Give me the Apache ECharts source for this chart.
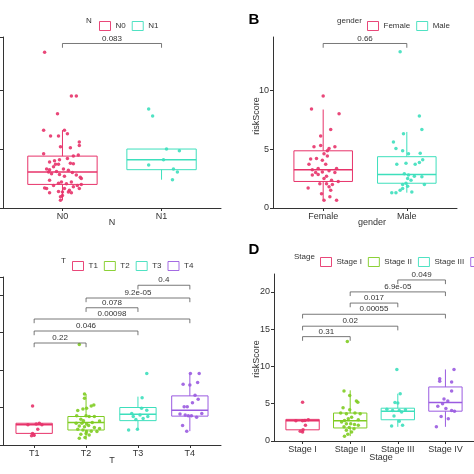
<!DOCTYPE html>
<html style="height: 100%">
<head>
    <meta charset="utf-8">
    <script src="https://cdn.jsdelivr.net/npm/echarts@6/dist/echarts.min.js"></script>
</head>
<body style="margin: 0; height: 100%">
    <div id="main" style="width: 474px; height: 474px"></div>
    <script>
        // Kategorier
        const catsA = ['N0', 'N1'];
        const catsB = ['Female', 'Male'];
        const catsC = ['T1', 'T2', 'T3', 'T4'];
        const catsD = ['Stage I', 'Stage II', 'Stage III', 'Stage IV'];

        // Boxar: [min-whisker, q1, median, q3, max-whisker]
        const boxA = [[0.65, 2.0, 3.05, 4.4, 6.6], [2.4, 3.25, 4.1, 5.0, 5.0]];
        const boxB = [[0.65, 2.25, 3.25, 4.85, 8.35], [1.3, 2.1, 2.85, 4.35, 6.45]];
        const boxC = [[1.1, 1.55, 2.7, 2.9, 2.9], [0.7, 2.0, 3.0, 3.8, 6.8], [2.0, 3.25, 4.1, 5.0, 6.45], [1.85, 3.85, 4.65, 6.55, 9.55]];
        const boxD = [[1.2, 1.5, 2.7, 2.9, 2.9], [0.65, 1.75, 2.7, 3.75, 6.8], [1.9, 2.85, 4.0, 4.4, 6.35], [1.9, 4.0, 5.15, 7.25, 9.6]];

        // Punkter: [jitter, värde]
        const ptsA = [
            [[-.18,13.2],[.09,9.5],[.14,9.5],[-.05,8.0],[-.19,6.6],[.02,6.6],[-.12,6.1],[-.04,6.1],[.05,6.3],[.17,5.6],[.17,5.3],[-.02,5.2],[.08,5.1],[-.19,4.6],[.16,4.5],[.11,4.4],[.05,4.2],[-.13,3.9],[-.08,4.0],[-.03,4.1],[.08,3.8],[.11,3.75],[-.07,3.7],[-.04,3.7],[-.16,3.3],[-.13,3.25],[-.09,3.5],[-.06,3.1],[.01,3.3],[.06,3.2],[-.14,3.05],[-.11,2.9],[-.03,2.85],[.02,2.7],[.1,3.0],[.14,2.8],[.18,2.6],[.19,2.5],[-.13,2.35],[-.04,2.1],[-.01,2.2],[.04,2.05],[.09,2.2],[.15,1.9],[.19,2.0],[-.18,1.7],[-.16,1.65],[-.09,1.9],[.02,1.65],[.07,1.5],[.11,1.8],[-.13,1.3],[-.04,1.4],[0,1.35],[.06,1.35],[.09,1.3],[-.02,0.95],[0,1.05],[-.02,0.65],[.17,1.65]],
            [[-.13,8.4],[-.09,7.8],[.05,5.0],[.18,4.85],[.02,4.1],[-.13,3.65],[.12,3.3],[.16,3.05],[.11,2.4]]
        ];
        const ptsB = [
            [[0,9.5],[-.14,8.4],[.19,8.0],[.09,6.65],[-.03,6.1],[-.11,5.2],[-.03,5.3],[.05,4.85],[.07,5.05],[.14,5.2],[.01,4.6],[.05,4.4],[-.15,4.15],[-.08,4.2],[-.01,4.05],[-.17,3.7],[.03,3.7],[-.06,3.35],[.16,3.35],[-.13,3.25],[-.09,3.0],[-.01,3.05],[.07,3.15],[.14,3.0],[-.06,2.85],[.04,2.7],[-.13,2.8],[.01,2.5],[.1,2.35],[.18,2.25],[-.04,2.05],[.04,2.05],[.11,2.0],[-.18,1.7],[.07,1.8],[.09,1.5],[-.02,1.2],[.08,0.95],[.16,0.65],[.01,0.65]],
            [[-.08,13.25],[.15,7.8],[.18,6.65],[-.04,6.3],[-.16,5.6],[-.13,5.05],[-.05,4.85],[.02,4.6],[.16,4.65],[.19,4.1],[.15,3.85],[-.01,3.8],[-.12,3.7],[.1,3.7],[-.03,2.9],[.02,2.8],[.09,2.7],[.18,2.65],[.01,2.5],[.05,2.35],[-.01,2.1],[-.05,2.0],[.21,2.0],[.01,1.85],[-.05,1.65],[.06,1.35],[-.18,1.3],[-.13,1.3],[-.08,1.5]]
        ];
        const ptsC = [
            [[-.03,5.2],[-.12,2.7],[.04,2.8],[.1,2.9],[.15,2.7],[.07,2.1],[-.03,1.55],[-.05,1.25],[0,1.3]],
            [[-.13,13.4],[-.03,6.8],[-.03,6.25],[.15,5.35],[.1,5.2],[-.16,4.6],[-.06,4.8],[.01,4.9],[-.18,3.9],[0,3.9],[.16,3.8],[.06,3.8],[-.1,3.45],[-.05,3.25],[.26,3.2],[-.19,2.9],[-.08,2.9],[.01,2.8],[.12,3.0],[-.13,2.55],[-.03,2.45],[.05,2.6],[.16,2.35],[.26,2.2],[-.16,2.1],[-.06,2.0],[.01,1.8],[.1,1.85],[.21,1.8],[-.1,1.45],[0,1.55],[.06,1.35],[-.13,0.9],[-.02,1.0]],
            [[.17,9.55],[.08,6.3],[.17,4.65],[.04,4.0],[.19,3.8],[-.01,2.1],[-.18,2.0],[-.12,4.2],[-.04,3.4],[.07,4.9],[-.09,3.8],[.1,3.55]],
            [[.18,9.55],[.01,9.55],[-.13,8.1],[0,8.0],[.15,8.35],[.1,6.65],[.16,6.1],[.05,5.65],[-.11,5.1],[-.05,5.1],[-.19,4.15],[-.09,4.0],[.03,3.9],[.13,3.7],[-.14,2.6],[-.06,1.85],[-.03,3.9],[.23,4.2]]
        ];
        const ptsD = [
            [[0,5.2],[-.14,2.7],[.05,2.75],[.12,2.85],[0,2.7],[.06,2.1],[.01,1.5],[-.05,1.3],[0,1.2]],
            [[-.06,13.35],[-.13,6.7],[-.01,6.1],[.13,5.35],[.16,5.2],[-.15,4.45],[-.01,4.2],[-.2,3.75],[-.08,3.65],[.1,3.75],[.21,3.65],[.03,3.2],[-.12,2.75],[-.04,3.0],[.17,2.85],[-.18,2.55],[-.08,2.3],[.01,2.3],[.09,2.2],[-.13,1.9],[-.02,1.8],[.08,1.65],[-.08,1.45],[.03,1.2],[-.05,0.9],[-.12,0.65],[.17,2.1]],
            [[-.02,9.6],[.05,6.35],[-.06,5.15],[0,5.1],[-.23,4.25],[-.11,4.1],[.03,4.1],[.16,4.2],[.08,3.9],[-.08,3.35],[.03,2.65],[-.13,2.0],[.1,2.1]],
            [[.18,9.6],[-.12,8.35],[-.12,8.0],[.13,7.9],[-.03,5.65],[.13,6.7],[-.16,4.65],[.05,5.35],[-.06,5.0],[.01,4.35],[.13,4.1],[.19,4.0],[-.09,3.3],[.06,3.0],[-.19,1.9]]
        ];

        // Jämförelser: [från, till, höjd, p-värde]
        const cmpA = [[0, 1, 13.95, '0.083']];
        const cmpB = [[0, 1, 13.95, '0.66']];
        const cmpC = [[2, 3, 21.3, '0.4'], [1, 3, 19.6, '9.2e-05'], [1, 2, 18.3, '0.078'], [0, 3, 16.8, '0.00098'], [0, 2, 15.2, '0.046'], [0, 1, 13.6, '0.22']];
        const cmpD = [[2, 3, 21.6, '0.049'], [1, 3, 20.0, '6.9e-05'], [1, 2, 18.5, '0.017'], [0, 3, 17.0, '0.00055'], [0, 2, 15.4, '0.02'], [0, 1, 14.0, '0.31']];

        const red = '#E7336A', green = '#7FCC22', teal = '#3DDFBC', purple = '#9A5BE0';

        const panels = [
            { cats: catsA, box: boxA, pts: ptsA, cmp: cmpA, colors: [red, teal], title: 'N', xName: 'N', ymax: 14.5, yLabels: false,
              grid: { left: 3, right: 253, top: 37, bottom: 266 }, lg: { left: 94, top: 16 }, lt: [86, 21], xt: [112, 223] },
            { cats: catsB, box: boxB, pts: ptsB, cmp: cmpB, colors: [red, teal], title: 'gender', xName: 'gender', ymax: 14.5, yLabels: true,
              grid: { left: 273, right: 17, top: 37, bottom: 266 }, lg: { left: 362, top: 16 }, lt: [337, 21], xt: [372, 223], yt: [257, 116], tag: ['B', 254, 20] },
            { cats: catsC, box: boxC, pts: ptsC, cmp: cmpC, colors: [red, green, teal, purple], title: 'T', xName: 'T', ymax: 22.4, yLabels: false,
              grid: { left: 3, right: 253, top: 277, bottom: 29 }, lg: { left: 67, top: 256 }, lt: [61, 261], xt: [112, 461] },
            { cats: catsD, box: boxD, pts: ptsD, cmp: cmpD, colors: [red, green, teal, purple], title: 'Stage', xName: 'Stage', ymax: 22.4, yLabels: true,
              grid: { left: 274, right: -17, top: 274, bottom: 33 }, lg: { left: 315, top: 252 }, lt: [294, 257], xt: [381, 458], yt: [257, 359], tag: ['D', 254, 250] }
        ];

        const chart = echarts.init(document.getElementById('main'));
        const grid = [], xAxis = [], yAxis = [], series = [], legend = [], graphic = [];

        panels.forEach((p, i) => {
            grid.push(p.grid);
            const n = p.cats.length;
            xAxis.push({
                type: 'value', gridIndex: i, min: -0.6, max: n - 0.4,
                axisLine: { show: true, onZero: false, lineStyle: { color: '#333' } },
                axisTick: { show: true, length: 3, customValues: p.cats.map((c, k) => k), lineStyle: { color: '#333' } },
                axisLabel: { customValues: p.cats.map((c, k) => k), formatter: v => p.cats[Math.round(v)], color: '#333', fontSize: 9, margin: 4 },
                splitLine: { show: false }
            });
            yAxis.push({
                type: 'value', gridIndex: i, min: 0, max: p.ymax, interval: 5,
                axisLine: { show: true, onZero: false, lineStyle: { color: '#333' } },
                axisTick: { show: true, length: 3, lineStyle: { color: '#333' } },
                axisLabel: { show: p.yLabels, color: '#333', fontSize: 9, margin: 4, showMaxLabel: false },
                splitLine: { show: false }
            });

            // Boxplot som custom series
            series.push({
                type: 'custom', xAxisIndex: i, yAxisIndex: i, silent: true, z: 2,
                data: p.box.map((b, k) => [k].concat(b)),
                renderItem: (params, api) => {
                    const k = api.value(0);
                    const col = p.colors[k];
                    const hw = api.size([0.35, 0])[0];
                    const cx = api.coord([k, 0])[0];
                    const y = j => api.coord([k, api.value(j)])[1];
                    const st = { stroke: col, lineWidth: 1, fill: 'none' };
                    return {
                        type: 'group', children: [
                            { type: 'line', shape: { x1: cx, y1: y(1), x2: cx, y2: y(2) }, style: st },
                            { type: 'line', shape: { x1: cx, y1: y(4), x2: cx, y2: y(5) }, style: st },
                            { type: 'rect', shape: { x: cx - hw, y: y(4), width: 2 * hw, height: y(2) - y(4) }, style: st },
                            { type: 'line', shape: { x1: cx - hw, y1: y(3), x2: cx + hw, y2: y(3) }, style: { stroke: col, lineWidth: 1.5 } }
                        ]
                    };
                }
            });

            // Punkter per grupp
            p.cats.forEach((c, k) => {
                series.push({
                    name: c, type: 'scatter', xAxisIndex: i, yAxisIndex: i, z: 3,
                    symbolSize: 3.5, itemStyle: { color: p.colors[k], opacity: 0.9 },
                    data: p.pts[k].map(d => [k + d[0], d[1]])
                });
            });

            // Signifikansklamrar
            series.push({
                type: 'custom', xAxisIndex: i, yAxisIndex: i, silent: true, z: 4,
                data: p.cmp.map(c => [c[0], c[1], c[2]]),
                renderItem: (params, api) => {
                    const a = api.coord([api.value(0), api.value(2)]);
                    const b = api.coord([api.value(1), api.value(2)]);
                    const drop = api.size([0, p.ymax * 0.025])[1];
                    const st = { stroke: '#555', lineWidth: 0.8, fill: 'none' };
                    return {
                        type: 'group', children: [
                            { type: 'polyline', shape: { points: [[a[0], a[1] + drop], a, b, [b[0], b[1] + drop]] }, style: st },
                            { type: 'text', style: { text: p.cmp[params.dataIndex][3], x: (a[0] + b[0]) / 2, y: a[1] - 1, align: 'center', verticalAlign: 'bottom', fontSize: 8, fill: '#333' } }
                        ]
                    };
                }
            });

            legend.push({
                data: p.cats.map((c, k) => ({ name: c, itemStyle: { color: '#fff', borderColor: p.colors[k], borderWidth: 1 } })),
                left: p.lg.left, top: p.lg.top, width: 400, orient: 'horizontal',
                itemWidth: 11, itemHeight: 9, itemGap: 6, icon: 'rect', selectedMode: false,
                textStyle: { fontSize: 8, color: '#333' }
            });
            graphic.push({ type: 'text', x: p.lt[0], y: p.lt[1], style: { text: p.title, fontSize: 8, fill: '#333', verticalAlign: 'middle' } });
            graphic.push({ type: 'text', x: p.xt[0], y: p.xt[1], style: { text: p.xName, fontSize: 9, fill: '#333', align: 'center', verticalAlign: 'middle' } });
            if (p.yt) {
                graphic.push({ type: 'text', x: p.yt[0], y: p.yt[1], rotation: Math.PI / 2, style: { text: 'riskScore', fontSize: 9, fill: '#333', align: 'center', verticalAlign: 'middle' } });
            }
            if (p.tag) {
                graphic.push({ type: 'text', x: p.tag[1], y: p.tag[2], style: { text: p.tag[0], fontSize: 15, fontWeight: 'bold', fill: '#000', align: 'center', verticalAlign: 'middle' } });
            }
        });

        chart.setOption({
            backgroundColor: '#fff',
            animation: false,
            textStyle: { fontFamily: 'Liberation Sans' },
            grid, xAxis, yAxis, series, legend, graphic
        });
    </script>
</body>
</html>
